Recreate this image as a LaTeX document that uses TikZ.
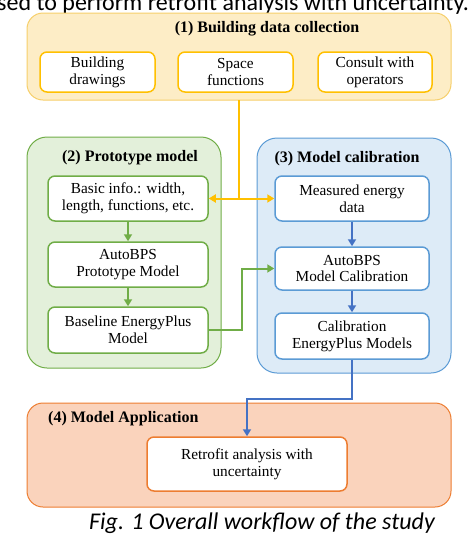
\documentclass[tikz,border=0pt]{standalone}
\usepackage{fontspec}
\setmainfont{Liberation Serif}
\newfontfamily\capfont{Carlito}
\usetikzlibrary{arrows.meta}
\definecolor{yfill}{HTML}{FDEDC6}
\definecolor{ydraw}{HTML}{F6CF6A}
\definecolor{yline}{HTML}{FFC000}
\definecolor{gfill}{HTML}{E3F0DA}
\definecolor{gdraw}{HTML}{70AD47}
\definecolor{bfill}{HTML}{DDEBF7}
\definecolor{bdraw}{HTML}{5B9BD5}
\definecolor{barrow}{HTML}{4472C4}
\definecolor{ofill}{HTML}{FAD3BC}
\definecolor{odraw}{HTML}{ED7D31}
\tikzset{
  outer/.style={rectangle, rounded corners=16pt, line width=1pt, inner sep=0pt},
  inner/.style={rectangle, rounded corners=7pt, fill=white, line width=1.5pt, align=center, inner sep=0pt,
    font=\fontsize{15.3}{16.8}\selectfont},
  ttl/.style={font=\bfseries\fontsize{16}{17}\selectfont, inner sep=0pt},
  conn/.style={line width=2pt, -{Triangle[length=7pt,width=8pt]}},
}
\begin{document}
\begin{tikzpicture}[x=1pt,y=-1pt]
\useasboundingbox (0,0) rectangle (474,536);
% partial running text at the top
\node[anchor=base west, inner sep=0pt, font=\capfont\fontsize{24}{26}\selectfont] (runtext) at (-3,10.5) {sed to perform retrofit analysis with uncertainty.};
% (1)
\node[outer, fill=yfill, draw=ydraw, minimum width=424pt, minimum height=87pt] (box1) at (239,56.5) {};
\node[ttl] (t1) at (267,29) {(1) Building data collection};
\node[inner, draw=yline, minimum width=115pt, minimum height=40pt] (bd) at (97.5,72) {Building\\drawings};
\node[inner, draw=yline, minimum width=115pt, minimum height=40pt] (sf) at (235.5,72) {Space\\functions};
\node[inner, draw=yline, minimum width=114pt, minimum height=40pt] (co) at (375,72) {Consult with\\operators};
% (2)
\node[outer, rounded corners=20pt, fill=gfill, draw=gdraw, minimum width=194pt, minimum height=231pt] (box2) at (124,252.5) {};
\node[ttl] (t2) at (130,158) {(2) Prototype model};
\node[inner, draw=gdraw, minimum width=160pt, minimum height=45pt] (basic) at (128,198.5) {Basic info.: width,\\length, functions, etc.};
\node[inner, draw=gdraw, minimum width=160pt, minimum height=45pt] (proto) at (128,264.5) {AutoBPS\\Prototype Model};
\node[inner, draw=gdraw, minimum width=160pt, minimum height=46pt] (base) at (128,330) {Baseline EnergyPlus\\Model};
% (3)
\node[outer, rounded corners=20pt, fill=bfill, draw=bdraw, minimum width=194pt, minimum height=235pt] (box3) at (354,255.5) {};
\node[ttl] (t3) at (347,159) {(3) Model calibration};
\node[inner, draw=bdraw, minimum width=154pt, minimum height=45pt] (meas) at (352,198.5) {Measured energy\\data};
\node[inner, draw=bdraw, minimum width=154pt, minimum height=43pt] (calib) at (352,268.5) {AutoBPS\\Model Calibration};
\node[inner, draw=bdraw, minimum width=154pt, minimum height=46pt] (cep) at (352,336) {Calibration\\EnergyPlus Models};
% (4)
\node[outer, fill=ofill, draw=odraw, minimum width=424pt, minimum height=104pt] (box4) at (239,455) {};
\node[ttl, anchor=west] (t4) at (48,419) {(4) Model Application};
\node[inner, draw=odraw, minimum width=200pt, minimum height=54pt] (retro) at (247,464) {Retrofit analysis with\\uncertainty};
% caption
\node[inner sep=0pt, anchor=base, font=\capfont\itshape\fontsize{24}{26}\selectfont] (cap) at (262,529) {Fig. 1 Overall workflow of the study};
% connectors
\coordinate (ytop) at (239,100);
\coordinate (yj) at (239,198.5);
\draw[line width=2pt, yline] (ytop) -- (yj);
\draw[conn, yline] (yj) -- (basic.east);
\draw[conn, yline] (yj) -- (meas.west);
\draw[conn, gdraw] (basic) -- (proto);
\draw[conn, gdraw] (proto) -- (base);
\draw[conn, barrow] (meas) -- (calib);
\draw[conn, barrow] (calib) -- (cep);
\draw[conn, gdraw] (base.east) -- (242,330) |- (calib.west);
\draw[conn, barrow] (cep.south) -- (352,399) -| (retro.north);
\end{tikzpicture}
\end{document}
